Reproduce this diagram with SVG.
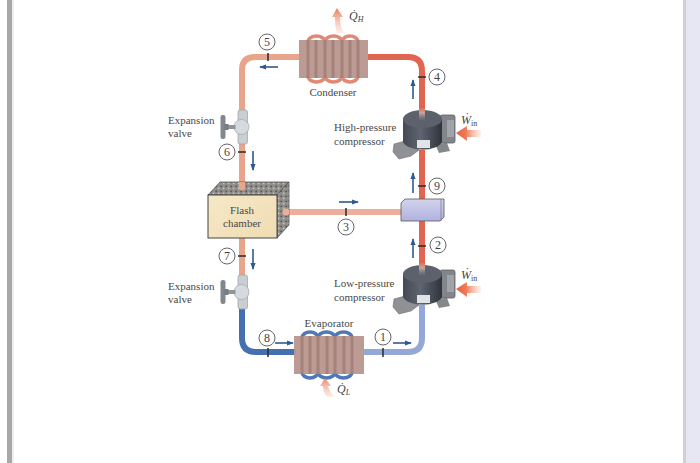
<svg xmlns="http://www.w3.org/2000/svg" width="700" height="463" viewBox="0 0 700 463">
<defs>
<style>
.lb{font-family:"Liberation Serif","Times New Roman",serif;font-size:11px;fill:#484848}
.c{text-anchor:middle}
.num{font-family:"Liberation Serif",serif;font-size:12px;fill:#444;text-anchor:middle}
.circ{fill:#fff;stroke:#666;stroke-width:1}
.tick{stroke:#2a2a2a;stroke-width:1.5}
.flow{stroke:#2f5a8f;stroke-width:1.6;fill:none}
.pipe{fill:none;stroke-width:6}
.q{font-family:"Liberation Serif",serif;font-style:italic;font-size:12px;fill:#444}
.coilr{fill:none;stroke:#e08a76;stroke-width:3.500}
.coilb{fill:none;stroke:#4f78b4;stroke-width:3.500}
</style>
<marker id="ah" viewBox="0 0 8 6" refX="7" refY="3" markerWidth="7" markerHeight="5.500" orient="auto" markerUnits="userSpaceOnUse"><path d="M0 0L8 3L0 6z" fill="#2f5a8f"/></marker>
<linearGradient id="hot" x1="1" x2="0" y1="0" y2="0"><stop offset="0" stop-color="#f6b9a2" stop-opacity=".2"/><stop offset=".6" stop-color="#ee7a58"/><stop offset="1" stop-color="#e95f3d"/></linearGradient>
<linearGradient id="up" x1="0" x2="0" y1="1" y2="0"><stop offset="0" stop-color="#fbd6c8" stop-opacity=".4"/><stop offset="1" stop-color="#e97a5c"/></linearGradient>
<linearGradient id="upL" x1="0" x2="0" y1="1" y2="0"><stop offset="0" stop-color="#f8d0c0" stop-opacity=".4"/><stop offset="1" stop-color="#e98767"/></linearGradient>
<linearGradient id="body" x1="0" x2="1" y1="0" y2="0"><stop offset="0" stop-color="#454953"/><stop offset=".45" stop-color="#5e6470"/><stop offset="1" stop-color="#2f333b"/></linearGradient>
<linearGradient id="tank" x1="0" x2="0" y1="0" y2="1"><stop offset="0" stop-color="#d3d3ee"/><stop offset="1" stop-color="#b0b2dd"/></linearGradient>
<linearGradient id="chamber" x1="0" x2="1" y1="0" y2="1"><stop offset="0" stop-color="#f6e8c8"/><stop offset="1" stop-color="#efdcb2"/></linearGradient>
<linearGradient id="fade" x1="0" x2="0" y1="0" y2="1"><stop offset="0" stop-color="#e3593c"/><stop offset=".5" stop-color="#c9a5a0"/><stop offset="1" stop-color="#7d818a" stop-opacity=".2"/></linearGradient>
<pattern id="grit" width="5" height="5" patternUnits="userSpaceOnUse"><rect width="5" height="5" fill="#8f8d8a"/><circle cx="1.200" cy="1.300" r=".9" fill="#565553"/><circle cx="3.600" cy="3.400" r=".9" fill="#c6c5c0"/></pattern>
<g id="valveShape">
<rect x="-4.500" y="-17" width="9.500" height="34" rx="2" fill="#c9ced2" stroke="#9aa0a5" stroke-width=".7"/>
<circle cx="-1" cy="0" r="7.500" fill="#d6dadd" stroke="#a0a5aa" stroke-width=".7"/>
<rect x="-15" y="-2" width="8" height="4" fill="#8e9499"/>
<rect x="-22" y="-12" width="5" height="24" rx="2.200" fill="#81878d"/>
<rect x="-18" y="-3" width="4" height="6" fill="#777d83"/>
</g>
<g id="compShape">
<path d="M-18 32l-11 3-1 8 6 7 12-3 8-6z" fill="#8f9195" stroke="#6c6e72" stroke-width=".6"/>
<path d="M12 35l12-1 3 8-11 2z" fill="#85878b"/>
<rect x="17" y="6" width="15" height="28" rx="2" fill="#82858b" stroke="#5d6066" stroke-width=".8"/>
<rect x="24" y="11" width="7" height="17" fill="#a0a3a8"/>
<path d="M-20 10a20 9 0 0 1 39 0v23a20 10 0 0 1-39 0z" fill="url(#body)"/>
<ellipse cx="-0.500" cy="10" rx="19.500" ry="9" fill="#5c616c"/>
<rect x="-6" y="31" width="13" height="8" fill="#e1e4e6"/>
</g>
</defs>
<rect width="700" height="463" fill="#fff"/>
<rect x="7" y="0" width="5" height="463" fill="#a8a8a8"/>
<rect x="12" y="0" width="2" height="463" fill="#eeeeee"/>
<rect x="683" y="0" width="17" height="463" fill="#e7e6f3"/>
<rect x="683" y="0" width="3" height="463" fill="#cfcfd6"/>

<g id="connectors">
<path class="pipe" stroke="#e8a58c" d="M300 57H255Q242 57 242 70V190"/>
<path class="pipe" stroke="#e2664f" d="M368 57H408Q422 57 422 71V115"/>
<path class="pipe" stroke="#e2664f" d="M422 150V200M422 221V270"/>
<path class="pipe" stroke="#ecb09a" d="M285 212H402"/>
<path class="pipe" stroke="#e8a58c" d="M242 238V282"/>
<path class="pipe" stroke="#4470b0" d="M242 300V338Q242 352 256 352H296"/>
<path class="pipe" stroke="#93a7d8" d="M364 352H408Q422 352 422 338V305"/>
<g class="tick"><path d="M268 53V61"/><path d="M418 77H426"/><path d="M238 152H246"/><path d="M418 186H426"/><path d="M346 208V216"/><path d="M418 246H426"/><path d="M238 256H246"/><path d="M268 348V357"/><path d="M383 348V357"/></g>
<g class="flow"><path d="M278 67H260" marker-end="url(#ah)"/><path d="M413 99V80" marker-end="url(#ah)"/><path d="M253 151V170" marker-end="url(#ah)"/><path d="M413 193V173" marker-end="url(#ah)"/><path d="M339 202H358" marker-end="url(#ah)"/><path d="M413 258V239" marker-end="url(#ah)"/><path d="M253 249V269" marker-end="url(#ah)"/><path d="M275 343H293" marker-end="url(#ah)"/><path d="M393 343H411" marker-end="url(#ah)"/></g>
<path d="M332 17L337 8L343 17L340 17C340 23 341 28 344 33L337 33C335 27 335 22 335 17Z" fill="url(#up)"/>
<path d="M456 133L467 126V130H481V137H467V141Z" fill="url(#hot)"/>
<path d="M456 289L467 282V286H481V293H467V297Z" fill="url(#hot)"/>
</g>

<g id="condenser">
<path class="coilr" d="M308 42A8.500 6 0 0 1 325 42M325 42A8.500 6 0 0 1 342 42M342 42A8 6 0 0 1 358 42M308 76A8.500 6 0 0 0 325 76M325 76A8.500 6 0 0 0 342 76M342 76A8 6 0 0 0 358 76"/>
<rect x="299" y="40" width="69" height="38" fill="#b8968e" opacity=".95"/>
<g stroke="#9d7b73" stroke-width="3" opacity=".75"><path d="M308 40V78M316 40V78M325 40V78M333 40V78M342 40V78M350 40V78M358 40V78"/></g>
<text class="lb c" x="333" y="96">Condenser</text>
</g>
<g id="evaporator">
<path class="coilb" d="M302 338A8 6 0 0 1 318 338M318 338A8.500 6 0 0 1 335 338M335 338A8.500 6 0 0 1 352 338M302 372A8 6 0 0 0 318 372M318 372A8.500 6 0 0 0 335 372M335 372A8.500 6 0 0 0 352 372"/>
<rect x="294" y="336" width="70" height="38" fill="#b8968e" opacity=".95"/>
<g stroke="#9d7b73" stroke-width="3" opacity=".75"><path d="M302 336V374M310 336V374M318 336V374M327 336V374M335 336V374M344 336V374M352 336V374"/></g>
<text class="lb c" x="329" y="327">Evaporator</text>
<path d="M320 386L325 378L331 386L328 386C329 390 331 393 334 397L327 397C324 393 323 390 323 386Z" fill="url(#upL)"/>
</g>
<g id="flash-chamber">
<path d="M208 195L220 182H289L277 195Z" fill="url(#grit)" stroke="#444" stroke-width=".7"/>
<path d="M277 195L289 182V225L277 238Z" fill="url(#grit)" stroke="#444" stroke-width=".7"/>
<rect x="208" y="195" width="69" height="43" fill="url(#chamber)" stroke="#444" stroke-width="1"/>
<path class="pipe" stroke="#e8a58c" d="M242 182V187"/>
<circle cx="242" cy="187" r="3.500" fill="#e8a58c"/>
<circle cx="286" cy="212" r="3.500" fill="#ecb09a"/>
<text class="lb c" x="242" y="214">Flash</text>
<text class="lb c" x="242" y="227">chamber</text>
</g>
<g id="mixing-chamber">
<path d="M401 203L405 199H444V217L440 221H401Z" fill="url(#tank)" stroke="#555" stroke-width=".8"/>
<path d="M441 199V221" stroke="#7d7f9a" stroke-width=".8"/>
</g>
<g id="valve-top"><use href="#valveShape" x="242.500" y="127"/><text class="lb" x="168" y="124">Expansion</text><text class="lb" x="168" y="137">valve</text></g>
<g id="valve-bottom"><use href="#valveShape" x="242.500" y="292"/><text class="lb" x="168" y="290">Expansion</text><text class="lb" x="168" y="303">valve</text></g>
<g id="hp-compressor"><use href="#compShape" x="423" y="109"/>
<rect x="419" y="106" width="6" height="14" fill="url(#fade)"/>
<text class="lb" x="334" y="131">High-pressure</text><text class="lb" x="334" y="145">compressor</text></g>
<g id="lp-compressor"><use href="#compShape" x="423" y="264"/>
<rect x="419" y="261" width="6" height="14" fill="url(#fade)"/>
<text class="lb" x="334" y="287">Low-pressure</text><text class="lb" x="334" y="301">compressor</text></g>
<g id="heat-labels">
<text class="q" x="349" y="20">Q&#775;<tspan font-size="8" dy="2">H</tspan></text>
<text class="q" x="337" y="393">Q&#775;<tspan font-size="8" dy="2">L</tspan></text>
<text class="q" x="461" y="124">&#7814;<tspan font-size="8" dy="2" font-style="normal">in</tspan></text>
<text class="q" x="461" y="279">&#7814;<tspan font-size="8" dy="2" font-style="normal">in</tspan></text>
</g>
<g id="state-labels">
<g><circle class="circ" cx="267" cy="42" r="8"/><text class="num" x="267" y="46">5</text></g>
<g><circle class="circ" cx="437" cy="77" r="8"/><text class="num" x="437" y="81">4</text></g>
<g><circle class="circ" cx="227" cy="152" r="8"/><text class="num" x="227" y="156">6</text></g>
<g><circle class="circ" cx="437" cy="186" r="8"/><text class="num" x="437" y="190">9</text></g>
<g><circle class="circ" cx="346" cy="227" r="8"/><text class="num" x="346" y="231">3</text></g>
<g><circle class="circ" cx="438" cy="245" r="8"/><text class="num" x="438" y="249">2</text></g>
<g><circle class="circ" cx="227" cy="256" r="8"/><text class="num" x="227" y="260">7</text></g>
<g><circle class="circ" cx="267" cy="338" r="8"/><text class="num" x="267" y="342">8</text></g>
<g><circle class="circ" cx="383" cy="337" r="8"/><text class="num" x="383" y="341">1</text></g>
</g>
</svg>
